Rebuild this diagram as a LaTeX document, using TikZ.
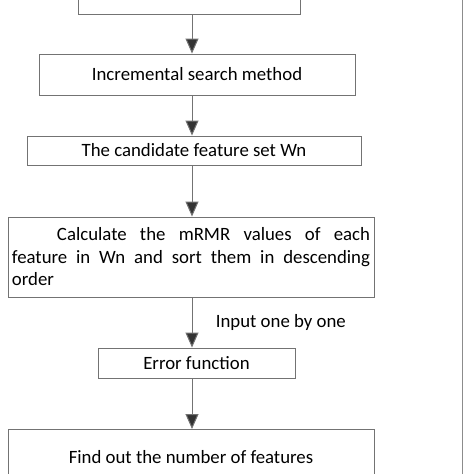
\documentclass[tikz,border=0pt]{standalone}
\usepackage{fontspec}
\setmainfont{Carlito}
\usetikzlibrary{arrows.meta}

\tikzset{
  stepbox/.style={draw=black!55, line width=0.9pt, inner sep=0pt, font=\fontsize{18.8}{22.5}\selectfont, text=black},
  flow/.style={draw=black!55, line width=1pt, -{Triangle[width=13pt,length=15pt,fill=black!80]}}
}

\begin{document}
\begin{tikzpicture}[x=1pt,y=-1pt]
		\clip (0,0) rectangle (474,474);
		\fill[white] (0,0) rectangle (474,474);

		%boxes
		\node[stepbox, minimum width=222pt, minimum height=40pt] (start) at (189,-6) {};
		\node[stepbox, minimum width=316pt, minimum height=41pt] (search) at (197,74.5) {Incremental search method};
		\node[stepbox, minimum width=334pt, minimum height=29pt] (cand) at (194,150.5) {The candidate feature set Wn};
		\node[stepbox, minimum width=366pt, minimum height=80pt, text width=358pt, align=justify] (mrmr) at (191,257)
			{\hspace*{45pt}Calculate the mRMR values of each\linebreak feature in Wn and sort them in descending\linebreak order};
		\node[stepbox, minimum width=197pt, minimum height=30pt] (err) at (196.5,363) {Error function};
		\node[stepbox, minimum width=366pt, minimum height=70pt, anchor=north] (find) at (191,429) {};
		\node[font=\fontsize{18.8}{22}\selectfont, text=black, anchor=base] (fnum) at (191,463) {Find out the number of features};

		%connectors
		\draw[flow] (start.south -| 192,0) -- (search.north -| 192,0);
		\draw[flow] (search.south -| 192,0) -- (cand.north -| 192,0);
		\draw[flow] (cand.south -| 192,0) -- (mrmr.north -| 192,0);
		\draw[flow] (mrmr.south -| 192,0) -- node[right=20pt, pos=0.5, font=\fontsize{18.8}{22}\selectfont, text=black] (inp) {Input one by one} (err.north -| 192,0);
		\draw[flow] (err.south -| 192,0) -- (find.north -| 192,0);

		%right edge line
		\draw[black!45, line width=1pt] (462,0) -- (462,474);
	\end{tikzpicture}
\end{document}
